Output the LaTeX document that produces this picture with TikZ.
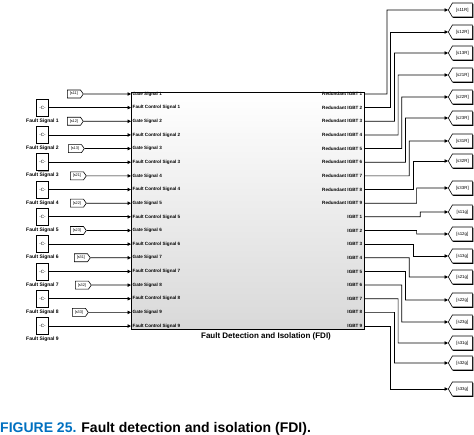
\documentclass[tikz,border=0pt]{standalone}
\usepackage{fontspec}
\setmainfont{Liberation Sans}
\usepackage{tikz}
\usetikzlibrary{shapes,positioning,calc}
\usetikzlibrary{shapes.symbols}
\usetikzlibrary{arrows.meta}
\usetikzlibrary{shadows}
\definecolor{captionblue}{RGB}{0,112,192}
\colorlet{blockgray}{gray!30}
\tikzstyle{arrow} = [line width=0.7pt,-{Triangle[length=3.4pt,width=3.4pt]}]

\begin{document}
\begin{tikzpicture}[x=1pt,y=-1pt,
	fdiblock/.style={rectangle, draw, line width=0.8pt, anchor=north west, minimum width=233pt, minimum height=237pt, top color=white, bottom color=blockgray, drop shadow={shadow xshift=1pt, shadow yshift=-1pt, fill=gray!70, opacity=1}},
	fromtag/.style={signal, signal to=east, signal pointer angle=110, draw, line width=0.6pt, fill=white, minimum width=16pt, minimum height=8pt, inner sep=0.5pt, font=\fontsize{3.8}{4}\selectfont},
	gototag/.style={signal, signal to=west, signal pointer angle=120, draw, line width=0.6pt, fill=white, minimum width=24pt, minimum height=14pt, inner sep=0.5pt, font=\fontsize{4.4}{5}\selectfont, drop shadow={shadow xshift=1pt, shadow yshift=-0.8pt, fill=black, opacity=1}},
	constant/.style={rectangle, draw, line width=0.6pt, fill=white, minimum width=11.5pt, minimum height=17pt, inner sep=0pt, font=\fontsize{4.6}{5}\selectfont, drop shadow={shadow xshift=0.8pt, shadow yshift=-0.8pt, fill=gray!70, opacity=1}},
	faultname/.style={inner sep=0.5pt, font=\fontsize{5}{6}\selectfont\bfseries},
	portin/.style={anchor=west, inner sep=1.5pt, font=\fontsize{4.6}{5}\selectfont\bfseries},
	portout/.style={anchor=east, inner sep=1.5pt, font=\fontsize{4.6}{5}\selectfont\bfseries}]
			
			\useasboundingbox (0,0) rectangle (474,435);
			
			% FDI BLOCK
			
			\node [fdiblock] (fdi) at (131,92) {};
			\node [font=\fontsize{8}{9}\selectfont\bfseries] (fdiname) at (266,336) {Fault Detection and Isolation (FDI)};
			
			% INPUTS
			
			\foreach \k/\tx/\tag in {1/67/s11, 2/67/s12, 3/68/s13, 4/70/s21, 5/70/s22, 6/70/s23, 7/74/s31, 8/75/s32, 9/72/s33}{
				\pgfmathsetmacro\gy{94+(2*\k-2)*13.65}
				\pgfmathsetmacro\fy{94+(2*\k-1)*13.65}
				\coordinate (gin\k) at (131,\gy);
				\coordinate (fin\k) at (131,\fy);
				\node [portin] (gatelabel\k) at (gin\k) {Gate Signal \k};
				\node [portin] (faultlabel\k) at (fin\k) {Fault Control Signal \k};
				\node [fromtag, anchor=west] (from\k) at (\tx,\gy) {[\tag]};
				\node [constant] (const\k) at (42.5,\fy) {-C-};
				\node [faultname, below=1.5pt of const\k] (constname\k) {Fault Signal \k};
				\draw [arrow] (from\k) -- (gin\k);
				\draw [arrow] (const\k) -- (fin\k);
			}
			
			% OUTPUTS
			
			\foreach \k/\ty/\vx/\tag in {1/10/387/s11R, 2/32/390.7/s12R, 3/53/394.4/s13R, 4/75/398.1/s21R, 5/97/401.8/s22R, 6/118/405.5/s23R, 7/141/409.2/s31R, 8/161/412.9/s32R, 9/188/416.6/s33R}{
				\pgfmathsetmacro\oy{94+(\k-1)*13.65}
				\coordinate (rout\k) at (364,\oy);
				\node [portout] (redlabel\k) at (rout\k) {Redundant IGBT \k};
				\node [gototag, anchor=west] (gotoR\k) at (448,\ty) {[\tag]};
				\draw [arrow] (rout\k) -| (\vx,\ty) -- (gotoR\k);
			}
			
			\foreach \k/\ty/\vx/\tag in {1/212/420.3/s11g, 2/234/416.6/s12g, 3/256/412.9/s13g, 4/277/409.2/s21g, 5/300/405.5/s22g, 6/322/401.8/s23g, 7/343/398.1/s31g, 8/363/394.4/s32g, 9/389/390.7/s33g}{
				\pgfmathsetmacro\oy{94+(\k+8)*13.65}
				\coordinate (iout\k) at (364,\oy);
				\node [portout] (igbtlabel\k) at (iout\k) {IGBT \k};
				\node [gototag, anchor=west] (gotoG\k) at (448,\ty) {[\tag]};
				\draw [arrow] (iout\k) -| (\vx,\ty) -- (gotoG\k);
			}
			
			% CAPTION
			
			\node [anchor=base west, inner sep=0pt, font=\fontsize{14}{16}\selectfont\bfseries] (caption) at (0,432) {\textcolor{captionblue}{FIGURE 25.}\hspace{5pt}Fault detection and isolation (FDI).};
			
\end{tikzpicture}
\end{document}
